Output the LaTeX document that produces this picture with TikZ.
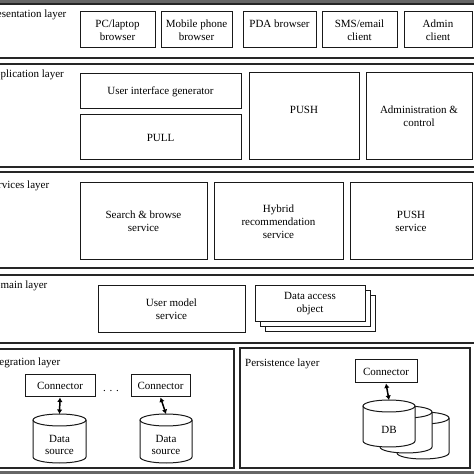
\documentclass[tikz,border=0pt]{standalone}
\usepackage{fontspec}
\setmainfont{Liberation Serif}
\usetikzlibrary{arrows.meta}
\tikzset{
  box/.style={draw=black!90, line width=1pt, fill=white, align=center, inner sep=2pt, font=\fontsize{11}{13}\selectfont},
  txt/.style={align=center, inner sep=1pt, font=\fontsize{11}{12.5}\selectfont},
  layer/.style={draw=black!85, line width=1.3pt},
  lbl/.style={anchor=base west, inner sep=0pt, font=\fontsize{11}{13}\selectfont},
  dbl/.style={{Latex[length=4.5pt,width=5.5pt]}-{Latex[length=4.5pt,width=5.5pt]}, line width=1.5pt, draw=black},
  cyl/.style={draw=black!90, line width=1pt}
}
\newcommand\drawcyl[5]{%
  \fill[white] ({#1-#2},#3) -- ({#1-#2},#4) arc[start angle=180,end angle=360,x radius=#2pt,y radius=#5pt] -- ({#1+#2},#3) arc[start angle=0,end angle=180,x radius=#2pt,y radius=#5pt] -- cycle;
  \draw[cyl] ({#1-#2},#3) -- ({#1-#2},#4) arc[start angle=180,end angle=360,x radius=#2pt,y radius=#5pt] -- ({#1+#2},#3);
  \draw[cyl] (#1,#3) ellipse [x radius=#2pt, y radius=#5pt];
}
\begin{document}
\begin{tikzpicture}[x=1pt,y=1pt]
\useasboundingbox (0,0) rectangle (474,474);
\clip (0,0) rectangle (474,474);
\fill[white] (0,0) rectangle (474,474);
% frame bands
\fill[black!60] (-20,470.5) rectangle (480,475);
\fill[black!60] (-20,-1) rectangle (480,3);
% layers
\draw[layer] (-18,470) rectangle (480,416);
\draw[layer] (-18,410) rectangle (480,307);
\draw[layer] (-18,302) rectangle (480,206);
\draw[layer] (-18,199) rectangle (480,131);
\draw[layer] (-18,125) rectangle (234,6);
\draw[layer] (240,126) rectangle (470,6);
% layer labels
\node[lbl] (lpres) at (-13,456) {Presentation layer};
\node[lbl] (lapp) at (-13,396) {Application layer};
\node[lbl] (lsvc) at (-13,285) {Services layer};
\node[lbl] (ldom) at (-13,185) {Domain layer};
\node[lbl] (lint) at (-13,108) {Integration layer};
\node[lbl] (lper) at (245,107.5) {Persistence layer};
% presentation
\node[box, minimum width=75, minimum height=36] (pc) at (117.5,444) {PC/laptop\\browser};
\node[box, minimum width=71, minimum height=36] (mob) at (196.5,444) {Mobile phone\\browser};
\node[box, minimum width=73, minimum height=36] (pda) at (279.5,444) {PDA browser\\\mbox{}};
\node[box, minimum width=75, minimum height=36] (sms) at (359.5,444) {SMS/email\\client};
\node[box, minimum width=68, minimum height=36] (adm) at (438,444) {Admin\\client};
% application
\node[box, minimum width=161, minimum height=35] (uig) at (160.5,382.5) {User interface generator};
\node[box, minimum width=161, minimum height=45] (pull) at (160.5,336.5) {PULL};
\node[box, minimum width=110, minimum height=87] (push) at (304,357.5) {PUSH\\\mbox{}};
\node[box, minimum width=106, minimum height=87] (admctl) at (419,357.5) {Administration \&\\control};
% services
\node[box, minimum width=127, minimum height=77] (search) at (143.5,252.5) {Search \& browse\\service};
\node[box, minimum width=129, minimum height=77] (hybrid) at (278.5,252.5) {Hybrid\\recommendation\\service};
\node[box, minimum width=122, minimum height=77] (pushsvc) at (411,252.5) {PUSH\\service};
% domain
\node[box, minimum width=147, minimum height=47] (usermodel) at (171.5,164.5) {User model\\service};
\node[box, minimum width=110, minimum height=36] (dao3) at (320,160) {};
\node[box, minimum width=110, minimum height=36] (dao2) at (315,165) {};
\node[box, minimum width=110, minimum height=36] (dao) at (310,170) {Data access\\object};
% integration
\node[box, minimum width=70, minimum height=22] (conn1) at (60,88) {Connector};
\node[box, minimum width=59, minimum height=22] (conn2) at (160.5,88) {Connector};
\node[txt, anchor=base] (dots) at (111,82) {.\,\,.\,\,.};
\drawcyl{59.5}{26.5}{54}{17}{6}
\drawcyl{166}{26}{54}{17}{6}
\node[txt] (ds1) at (59.5,29) {Data\\source};
\node[txt] (ds2) at (166,29) {Data\\source};
\coordinate (ds1top) at (59.5,60);
\coordinate (ds2top) at (166,60);
\draw[dbl] (conn1.south) -- (ds1top);
\draw[dbl] (conn2.south) -- (ds2top);
% persistence
\node[box, minimum width=62, minimum height=23] (pconn) at (386,102.5) {Connector};
\drawcyl{423}{26}{56}{21}{6}
\drawcyl{406}{26}{62}{27}{6}
\drawcyl{389}{26}{68}{33}{6}
\node[txt] (db) at (389,44) {DB};
\coordinate (dbtop) at (389,74);
\draw[dbl] (pconn.south) -- (dbtop);
\end{tikzpicture}
\end{document}
